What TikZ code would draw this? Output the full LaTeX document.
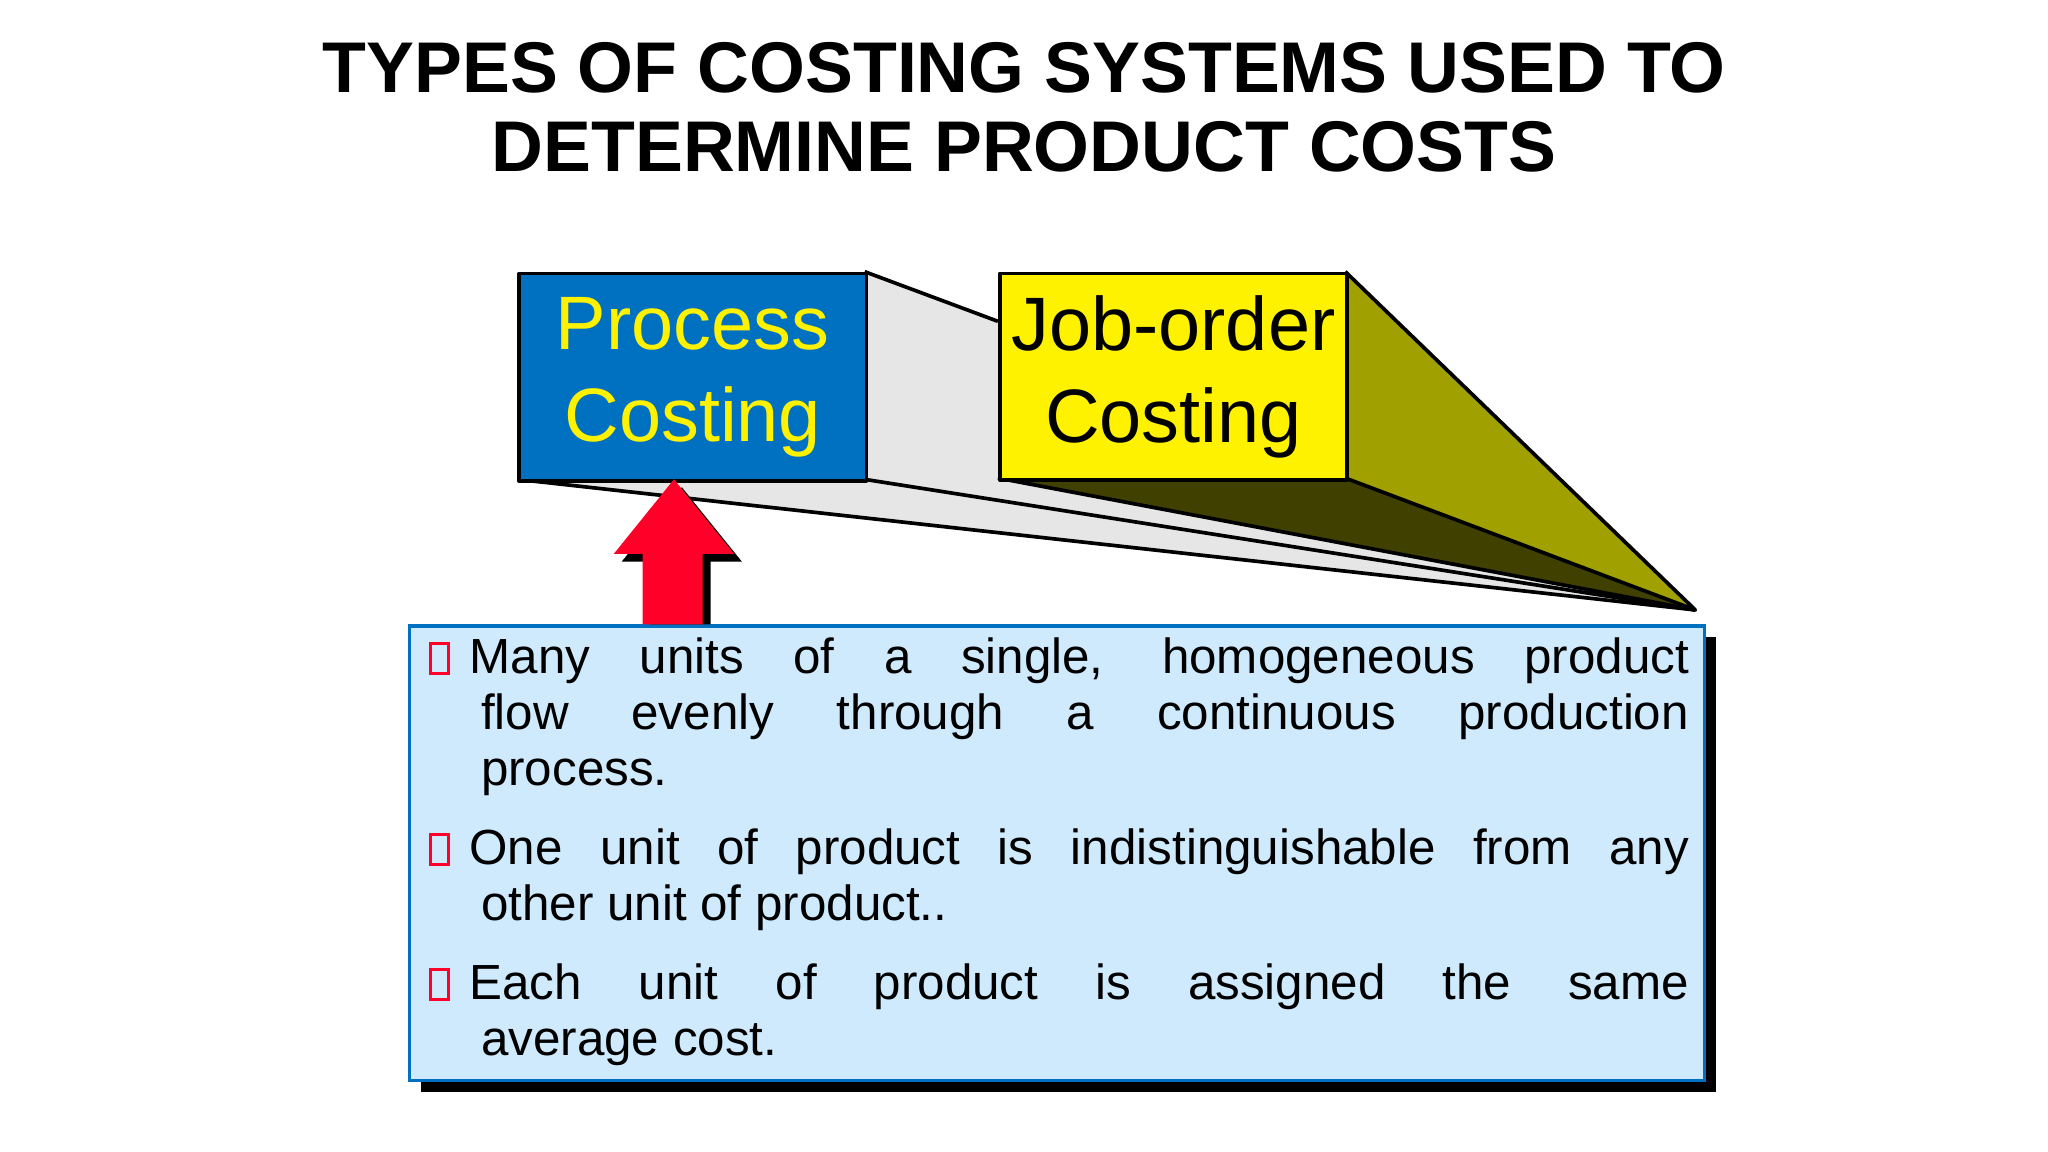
\documentclass[tikz,border=0pt]{standalone}
\usepackage{fontspec}
\setmainfont{Liberation Sans}
\usepackage{graphicx}
\definecolor{pblue}{RGB}{0,112,192}
\definecolor{olive1}{RGB}{160,160,0}
\definecolor{olive2}{RGB}{64,64,0}
\definecolor{lgray}{RGB}{230,230,230}
\definecolor{lblue}{RGB}{206,234,252}
\definecolor{bred}{RGB}{255,0,40}
\newcommand{\bsq}{\tikz[baseline=0pt]\draw[bred,line width=1.2pt](0,0) rectangle (0.28cm,0.46cm);}
\tikzset{edge/.style={draw=black,line width=1.6pt,line join=round}}
\begin{document}
\begin{tikzpicture}[x={(0.02cm,0)},y={(0,-0.02cm)}]
\useasboundingbox (0,0) rectangle (1568,882);
\node (title) at (784,88) {\resizebox{22.8cm}{!}{\bfseries\begin{tabular}{c}TYPES OF COSTING SYSTEMS USED TO\\[-1pt] DETERMINE PRODUCT COSTS\end{tabular}}};
\coordinate (V) at (1298,467);
% gray extrusion of process box
\fill[lgray] (662,208) -- (764,246) -- (764,366) -- (V) -- (662,367) -- cycle;
\fill[lgray] (396,367) -- (662,367) -- (V) -- cycle;
\draw[edge] (662,208) -- (764,246);
\draw[edge] (396,367) -- (V);
\draw[edge] (662,367) -- (V);
% job box extrusion
\fill[olive1] (1030,208) -- (V) -- (1030,366) -- cycle;
\fill[olive2] (764,366) -- (1030,366) -- (V) -- cycle;
\draw[edge] (1030,208) -- (V) -- (1030,366);
\draw[edge] (764,366) -- (V);
% boxes
\node[edge,fill=pblue,minimum width=5.32cm,minimum height=3.18cm,anchor=north west,text=yellow,font=\fontsize{33}{40}\selectfont,align=center] (proc) at (396,208) {Process\\Costing};
\node[edge,fill=yellow,minimum width=5.32cm,minimum height=3.16cm,anchor=north west,text=black,font=\fontsize{33}{40}\selectfont,align=center] (job) at (764,208) {Job-order\\Costing};
% text box shadow and box
\fill[black] (322,488) rectangle (1314,836);
\node[draw=pblue,line width=1.5pt,fill=lblue,minimum width=19.84cm,minimum height=6.96cm,anchor=north west] (tb) at (312,478) {};
% red arrow
\fill[black] (498,478) -- (498,430) -- (476,430) -- (522,373) -- (568,430) -- (544,430) -- (544,478) -- cycle;
\fill[bred] (492,478) -- (492,424) -- (470,424) -- (516,367) -- (562,424) -- (538,424) -- (538,478) -- cycle;
\node[anchor=north west,text width=19.3cm,align=justify,font=\fontsize{21.5}{24.4}\selectfont,inner sep=0pt] (txt) at (328,488) {%
\setlength{\parskip}{10pt}\hangindent=0.8cm\hangafter=1
\bsq\hspace{0.3cm}Many units of a single, homogeneous product\linebreak flow evenly through a continuous production\linebreak process.\par
\hangindent=0.8cm\hangafter=1
\bsq\hspace{0.3cm}One unit of product is indistinguishable from any\linebreak other unit of product..\par
\hangindent=0.8cm\hangafter=1
\bsq\hspace{0.3cm}Each unit of product is assigned the same\linebreak average cost.\par};
\end{tikzpicture}
\end{document}
